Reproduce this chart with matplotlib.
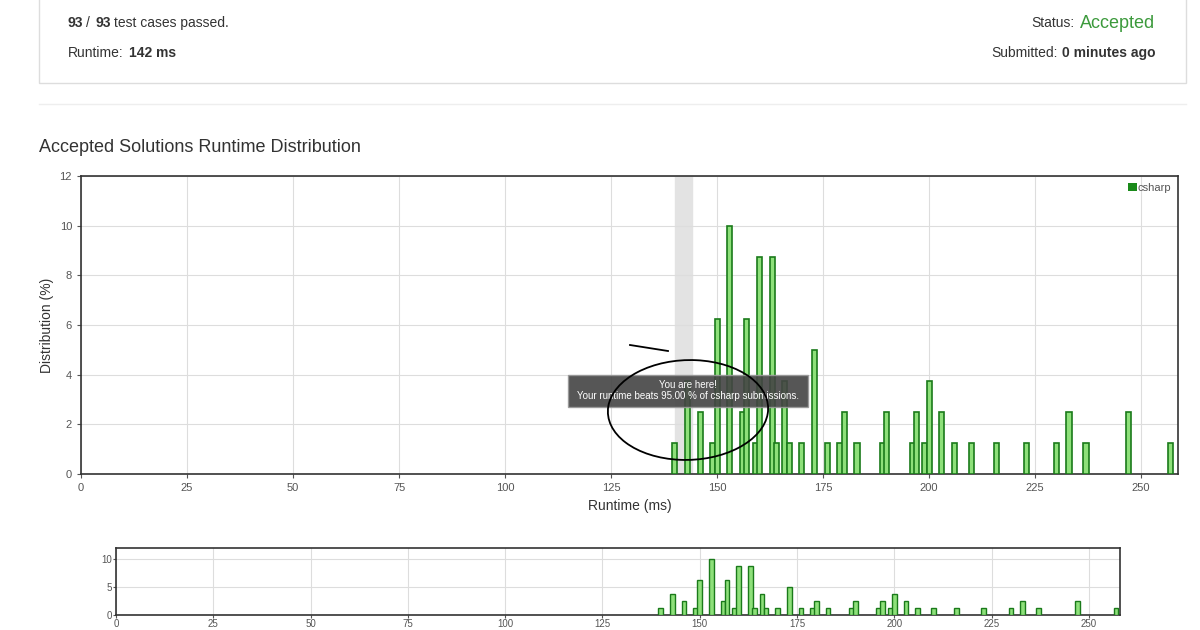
import matplotlib
matplotlib.use("Agg")
import matplotlib.pyplot as plt
from matplotlib.patches import Rectangle, Ellipse

runtimes = [140,143,146,149,150,153,156,157,159,160,163,164,166,167,170,173,176,179,180,183,
            189,190,196,197,199,200,203,206,210,216,223,230,233,237,247,257]
dist = [1.25,3.75,2.5,1.25,6.25,10,2.5,6.25,1.25,8.75,8.75,1.25,3.75,1.25,1.25,5,1.25,1.25,2.5,1.25,
        1.25,2.5,1.25,2.5,1.25,3.75,2.5,1.25,1.25,1.25,1.25,1.25,2.5,1.25,2.5,1.25]
xticks = [0,25,50,75,100,125,150,175,200,225,250]

plt.rcParams['font.family'] = ['Liberation Sans', 'DejaVu Sans']
fig = plt.figure(figsize=(12, 6.3), dpi=100)
W, H = 1200, 630
def fx(px): return px / W
def fy(py): return 1 - py / H

fig.patches.append(Rectangle((fx(39), fy(83)), fx(1186) - fx(39), fy(0) - fy(83) + 0.01,
                             transform=fig.transFigure, fill=False, ec='#dddddd', lw=1))
fig.add_artist(plt.Line2D([fx(39), fx(1186)], [fy(104), fy(104)], color='#eeeeee', lw=1))
fig.text(fx(68), fy(23), "93", fontsize=10, va='center', color='#333', weight='bold')
fig.text(fx(86), fy(23), "/", fontsize=10, va='center', color='#333')
fig.text(fx(95), fy(23), "93", fontsize=10, va='center', color='#333', weight='bold')
fig.text(fx(114), fy(23), "test cases passed.", fontsize=10, va='center', color='#333')
fig.text(fx(68), fy(53), "Runtime:", fontsize=10, va='center', color='#333')
fig.text(fx(129), fy(53), "142 ms", fontsize=10, va='center', color='#333', weight='bold')
fig.text(fx(1155), fy(23), "Accepted", fontsize=13, va='center', ha='right', color='#3c9a3c')
fig.text(fx(1074), fy(23), "Status:", fontsize=10, va='center', ha='right', color='#333')
fig.text(fx(1155), fy(53), "0 minutes ago", fontsize=10, va='center', ha='right', color='#333', weight='bold')
fig.text(fx(1058), fy(53), "Submitted:", fontsize=10, va='center', ha='right', color='#333')
fig.text(fx(39), fy(147), "Accepted Solutions Runtime Distribution", fontsize=13, va='center', color='#333')

green_face = '#8ee07a'
green_edge = '#1a7a1a'

ax = fig.add_axes([fx(81), fy(474), fx(1178) - fx(81), fy(176) - fy(474)])
ax.axvspan(140, 144.2, color='#e3e3e3', zorder=0)
ax.bar(runtimes, dist, width=1.2, color=green_face, edgecolor=green_edge, lw=1.2, zorder=3)
ax.set_xlim(0, 258.7)
ax.set_ylim(0, 12)
ax.set_xticks(xticks)
ax.set_yticks(range(0, 13, 2))
ax.grid(color='#dddddd', lw=0.8)
ax.set_axisbelow(True)
for s in ax.spines.values():
    s.set_color('#333'); s.set_linewidth(1.2)
ax.tick_params(labelsize=8, colors='#555', length=3)
ax.set_xlabel("Runtime (ms)", fontsize=10, color='#333')
ax.set_ylabel("Distribution (%)", fontsize=10, color='#333')
ax.bar([0], [0], color='#1a8a1a', label='csharp')
leg = ax.legend(loc='upper right', frameon=False, fontsize=8, handlelength=0.8, handleheight=0.8,
                handletextpad=0.1, borderaxespad=0.2)
for t in leg.get_texts():
    t.set_color('#555')

fig.patches.append(Rectangle((fx(568), fy(407)), fx(808) - fx(568), fy(375) - fy(407),
                             transform=fig.transFigure, fc='#444444', ec='#999', alpha=0.9, zorder=10))
fig.text(fx(688), fy(385), "You are here!", fontsize=7, ha='center', va='center', color='white', zorder=11)
fig.text(fx(688), fy(396), "Your runtime beats 95.00 % of csharp submissions.", fontsize=7,
         ha='center', va='center', color='white', zorder=11)
fig.add_artist(Ellipse((fx(688), fy(410)), fx(160), 100 / H, angle=-5, transform=fig.transFigure,
                       fill=False, ec='black', lw=1.3, zorder=12))
fig.add_artist(plt.Line2D([fx(630), fx(668)], [fy(345), fy(351)], color='black', lw=1.3, zorder=12))

ax2 = fig.add_axes([fx(116), fy(615), fx(1120) - fx(116), fy(548) - fy(615)])
ax2.bar(runtimes, dist, width=1.2, color=green_face, edgecolor=green_edge, lw=1, zorder=3)
ax2.set_xlim(0, 258)
ax2.set_ylim(0, 12)
ax2.set_xticks(xticks)
ax2.set_yticks([0, 5, 10])
ax2.grid(color='#dddddd', lw=0.8)
ax2.set_axisbelow(True)
for s in ax2.spines.values():
    s.set_color('#333'); s.set_linewidth(1.2)
ax2.tick_params(labelsize=7, colors='#555', length=2, pad=1)

fig.savefig("out.png", dpi=100, facecolor='white')
